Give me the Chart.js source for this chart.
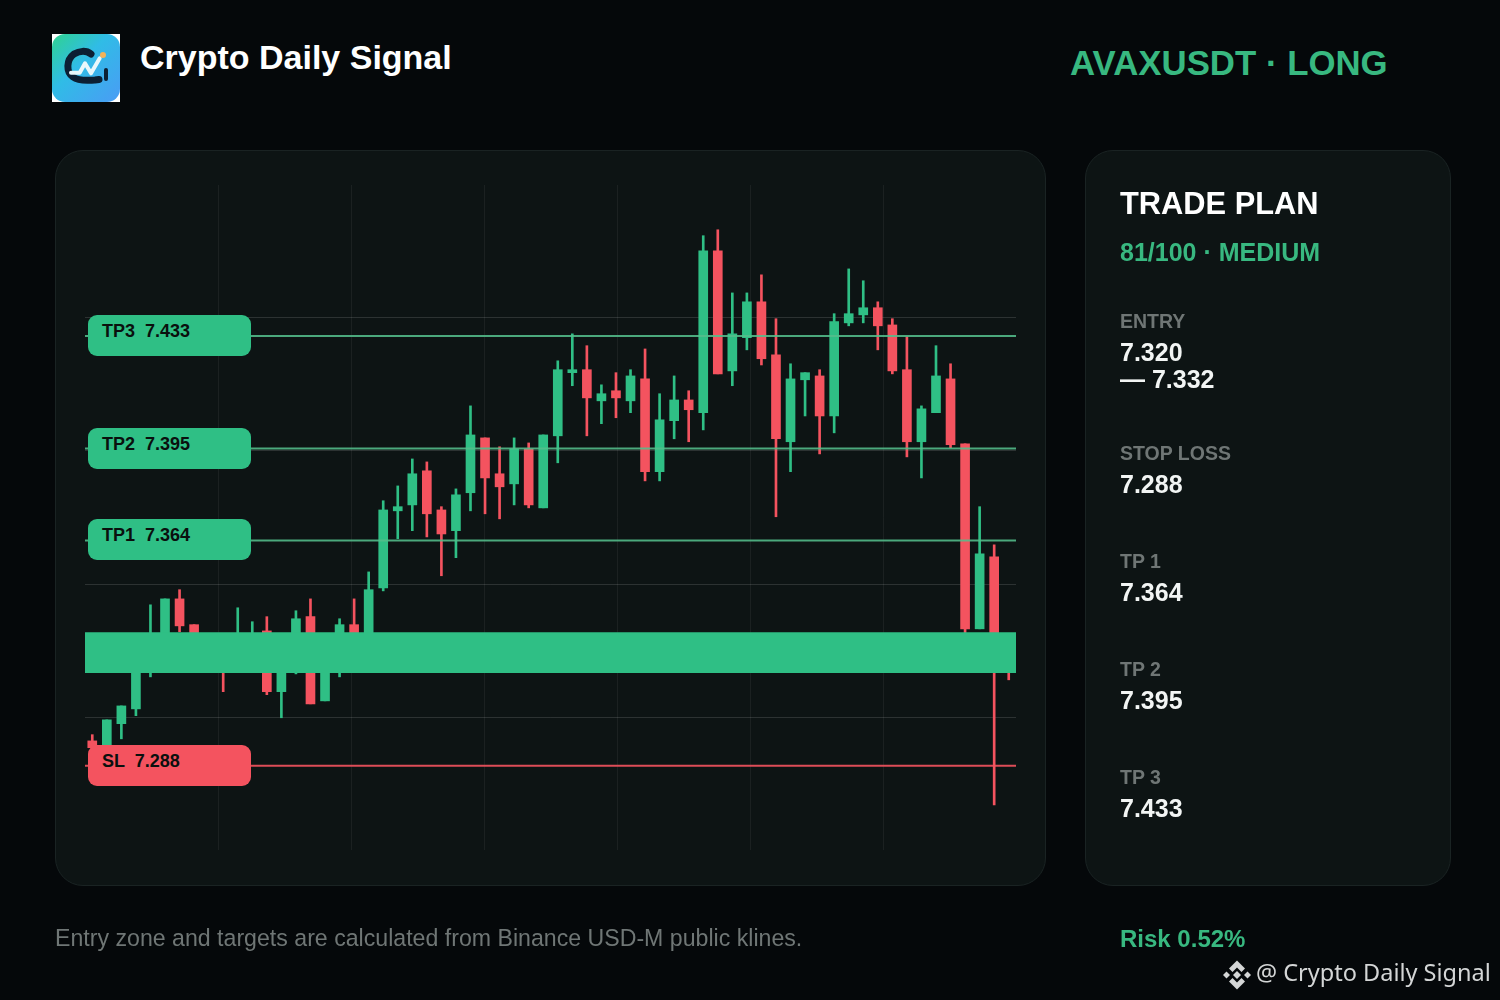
<!DOCTYPE html>
<html>
<head>
<meta charset="utf-8">
<script src="https://cdn.jsdelivr.net/npm/chart.js@4/dist/chart.umd.js"></script>
<style>
html,body{margin:0;padding:0;background:#05080a;width:1500px;height:1000px;overflow:hidden;font-family:"Liberation Sans",Arial,sans-serif}
.abs{position:absolute;white-space:pre;line-height:1}
.panel{position:absolute;background:#0d1414;border:1px solid #1a2323;box-sizing:border-box;border-radius:28px}
canvas{position:absolute;left:0;top:0;display:block}
.pill{position:absolute;left:88px;width:163px;height:41px;border-radius:9px;color:#0a100e;font-weight:700;font-size:18px;line-height:32px;box-sizing:border-box;padding-left:14px;white-space:pre}
.lab{color:#6f7675;font-weight:700;font-size:19.5px;left:1120px}
.val{color:#f2f5f4;font-weight:700;font-size:25px;left:1120px}
</style>
</head>
<body>
<svg class="abs" style="left:52px;top:34px" width="68" height="68" viewBox="0 0 68 68">
  <defs><linearGradient id="g" x1="0" y1="0" x2="1" y2="1"><stop offset="0" stop-color="#2fd38f"/><stop offset=".42" stop-color="#30bce6"/><stop offset="1" stop-color="#4a9cf5"/></linearGradient></defs>
  <rect width="68" height="68" fill="#fff"/>
  <rect width="68" height="68" rx="13" fill="url(#g)"/>
  <path d="M39 20 C34 16 27 17 22 20 C14 26 14 38 21 43 C28 48 38 46 43 46 L 47 45.5" fill="none" stroke="#0c1f33" stroke-width="7" stroke-linecap="round" stroke-linejoin="round"/>
  <path d="M19 38.7 L27.7 38.7 L33 29.3 L39 39.3 L47.7 24.3" fill="none" stroke="#e9f7fb" stroke-width="4" stroke-linecap="round" stroke-linejoin="round"/>
  <circle cx="51" cy="21" r="3" fill="#f3b35a"/>
  <rect x="52" y="34" width="4" height="13" rx="2" fill="#0c1f33"/>
</svg>
<div class="abs" style="left:140px;top:40px;font-size:34px;font-weight:700;color:#fff">Crypto Daily Signal</div>
<div class="abs" style="left:1070px;top:46px;font-size:34.8px;font-weight:700;color:#38b880">AVAXUSDT · LONG</div>

<div class="panel" style="left:55px;top:150px;width:991px;height:736px"></div>
<div class="panel" style="left:1085px;top:150px;width:366px;height:736px"></div>

<canvas id="c" width="1500" height="1000" style="width:1500px;height:1000px"></canvas>
<div id="pills"></div>

<div class="abs" style="left:1120px;top:189px;font-size:30.8px;font-weight:700;color:#fff">TRADE PLAN</div>
<div class="abs" style="left:1120px;top:240px;font-size:25px;font-weight:700;color:#38b880">81/100 · MEDIUM</div>
<div class="abs lab" style="top:312px">ENTRY</div>
<div class="abs val" style="top:340px">7.320</div>
<div class="abs val" style="top:367px">— 7.332</div>
<div class="abs lab" style="top:444px">STOP LOSS</div>
<div class="abs val" style="top:472px">7.288</div>
<div class="abs lab" style="top:552px">TP 1</div>
<div class="abs val" style="top:580px">7.364</div>
<div class="abs lab" style="top:660px">TP 2</div>
<div class="abs val" style="top:688px">7.395</div>
<div class="abs lab" style="top:768px">TP 3</div>
<div class="abs val" style="top:796px">7.433</div>

<div class="abs" style="left:55px;top:927px;font-size:23.15px;color:#6f7675">Entry zone and targets are calculated from Binance USD-M public klines.</div>
<div class="abs" style="left:1120px;top:927px;font-size:24px;font-weight:700;color:#38b880">Risk 0.52%</div>

<svg class="abs" style="left:1222px;top:960px" width="30" height="30" viewBox="0 0 30 30" fill="#d4d6d6">
  <path d="M15 0.5 L23 8.5 L19.5 12 L15 7.5 L10.5 12 L7 8.5 Z"/>
  <path d="M15 29.5 L23 21.5 L19.5 18 L15 22.5 L10.5 18 L7 21.5 Z"/>
  <path d="M1 15 L4.5 11.5 L8 15 L4.5 18.5 Z"/>
  <path d="M29 15 L25.5 11.5 L22 15 L25.5 18.5 Z"/>
  <path d="M15 11 L19 15 L15 19 L11 15 Z"/>
</svg>
<div class="abs" style="left:1256px;top:961px;font-size:23.5px;font-family:'Noto Sans','Open Sans',sans-serif;color:#d4d6d6">@ Crypto Daily Signal</div>

<script>
const opens  = [7.2964,7.2941,7.3022,7.3072,7.3221,7.3288,7.3443,7.3356,7.3238,7.3271,7.3221,7.3238,7.3335,7.3130,7.3238,7.3383,7.3099,7.3238,7.3356,7.3288,7.3480,7.3740,7.3760,7.3875,7.3743,7.3673,7.3801,7.3986,7.3865,7.3831,7.3949,7.3750,7.3993,7.4206,7.4216,7.4111,7.4145,7.4111,7.4185,7.3872,7.4044,7.4114,7.4071,7.4617,7.4212,7.4324,7.4445,7.4266,7.3973,7.4182,7.4195,7.4060,7.4374,7.4401,7.4425,7.4367,7.4216,7.3973,7.4071,7.4185,7.3966,7.3342,7.3585,7.3305];
const highs  = [7.2985,7.3035,7.3082,7.3271,7.3423,7.3443,7.3474,7.3356,7.3288,7.3305,7.3413,7.3366,7.3383,7.3254,7.3403,7.3443,7.3254,7.3376,7.3443,7.3534,7.3774,7.3824,7.3915,7.3905,7.3754,7.3814,7.4094,7.3986,7.3956,7.3986,7.3969,7.3996,7.4246,7.4337,7.4297,7.4165,7.4206,7.4216,7.4286,7.4135,7.4195,7.4145,7.4668,7.4688,7.4475,7.4475,7.4536,7.4388,7.4236,7.4206,7.4216,7.4405,7.4556,7.4516,7.4445,7.4388,7.4327,7.4094,7.4297,7.4236,7.3966,7.3754,7.3625,7.3305];
const lows   = [7.2927,7.2934,7.2971,7.3049,7.3180,7.3271,7.3332,7.3271,7.3221,7.3130,7.3204,7.3211,7.3120,7.3042,7.3190,7.3089,7.3099,7.3180,7.3271,7.3288,7.3470,7.3646,7.3673,7.3652,7.3521,7.3582,7.3740,7.3730,7.3713,7.3760,7.3750,7.3750,7.3902,7.4162,7.3993,7.4034,7.4054,7.4071,7.3841,7.3841,7.3983,7.3973,7.4013,7.4202,7.4162,7.4283,7.4232,7.3720,7.3872,7.4060,7.3932,7.4003,7.4364,7.4374,7.4283,7.4202,7.3922,7.3851,7.4071,7.3953,7.3329,7.3342,7.2748,7.3170];
const closes = [7.2941,7.3035,7.3082,7.3271,7.3305,7.3443,7.3352,7.3305,7.3288,7.3211,7.3271,7.3288,7.3130,7.3254,7.3376,7.3089,7.3254,7.3356,7.3288,7.3474,7.3743,7.3754,7.3865,7.3730,7.3662,7.3794,7.3996,7.3851,7.3821,7.3949,7.3760,7.3996,7.4216,7.4216,7.4121,7.4135,7.4121,7.4195,7.3872,7.4047,7.4114,7.4081,7.4617,7.4202,7.4337,7.4445,7.4253,7.3983,7.4185,7.4206,7.4060,7.4378,7.4405,7.4425,7.4364,7.4212,7.3973,7.4084,7.4195,7.3963,7.3342,7.3595,7.3271,7.3238];
const candleLabels = opens.map((_, i) => String(i + 1));

const levelNames  = ["TP3", "TP2", "TP1", "SL"];
const levelPrices = [7.433, 7.395, 7.364, 7.288];
const levelShown  = ["7.433", "7.395", "7.364", "7.288"];
const entryZoneBand = [7.3194, 7.3329];
const priceMin = 7.2596, priceMax = 7.4839;
const verticalDivisions = 7, horizontalDivisions = 5;

const GREEN = "#2fbf85", RED = "#f4535f";
const up = i => closes[i] >= opens[i];
const candleColor = ctx => up(ctx.dataIndex) ? GREEN : RED;

const hiddenAxis = {display:true, ticks:{display:false}, grid:{display:false, drawTicks:false}, border:{display:false}};
const gridLineColor = (alpha) => ctx => {
  const v = ctx.tick ? ctx.tick.value : 0;
  const s = ctx.scale;
  return (Math.abs(v - s.min) < 1e-6 || Math.abs(v - s.max) < 1e-6) ? "rgba(0,0,0,0)" : `rgba(255,255,255,${alpha})`;
};

const lineSets = levelPrices.map((p, i) => ({
  type: "line",
  label: levelNames[i],
  xAxisID: "xg",
  data: [{x: 0, y: p}, {x: verticalDivisions, y: p}],
  borderColor: levelNames[i] === "SL" ? "rgba(244,83,95,.9)" : "rgba(84,190,140,.88)",
  borderWidth: 2,
  pointRadius: 0,
  order: 2
}));

const pillPlugin = {
  id: "pills",
  afterRender(chart) {
    const host = document.getElementById("pills");
    if (host.childElementCount) return;
    levelNames.forEach((n, i) => {
      const d = document.createElement("div");
      d.className = "pill";
      d.textContent = n + "  " + levelShown[i];
      d.style.top = (chart.scales.y.getPixelForValue(levelPrices[i]) - 21) + "px";
      d.style.background = n === "SL" ? RED : GREEN;
      host.appendChild(d);
    });
  }
};

new Chart(document.getElementById("c"), {
  data: {
    labels: candleLabels,
    datasets: [
      {type:"bar", label:"wick", xAxisID:"x", data: lows.map((l,i)=>[l,highs[i]]), backgroundColor:candleColor, barThickness:2, order:4, grouped:false},
      {type:"bar", label:"body", xAxisID:"x", data: opens.map((o,i)=>[o,closes[i]]), backgroundColor:candleColor, barThickness:9, order:3, grouped:false},
      ...lineSets,
      {type:"bar", label:"entry", xAxisID:"xb", data:[{x:"entry", y:entryZoneBand}], backgroundColor:GREEN, categoryPercentage:1, barPercentage:1, order:1, grouped:false}
    ]
  },
  options: {
    responsive:false, animation:false, devicePixelRatio:1,
    layout:{padding:{left:85,right:484,top:185,bottom:150}},
    plugins:{legend:{display:false},tooltip:{enabled:false}},
    scales:{
      x:{type:"category", offset:true, ...hiddenAxis},
      xb:{type:"category", labels:["entry"], offset:true, ...hiddenAxis},
      xg:{type:"linear", min:0, max:verticalDivisions, position:"bottom",
          ticks:{display:false, stepSize:1},
          grid:{color:gridLineColor(.06), drawTicks:false, lineWidth:1},
          border:{display:false}},
      y:{type:"linear", min:priceMin, max:priceMax,
          afterBuildTicks(s){ s.ticks = Array.from({length:horizontalDivisions+1},(_, k)=>({value:priceMin+(priceMax-priceMin)*k/horizontalDivisions})); },
          ticks:{display:false},
          grid:{color:gridLineColor(.13), drawTicks:false, lineWidth:1},
          border:{display:false}}
    }
  },
  plugins:[pillPlugin]
});
</script>
</body>
</html>
